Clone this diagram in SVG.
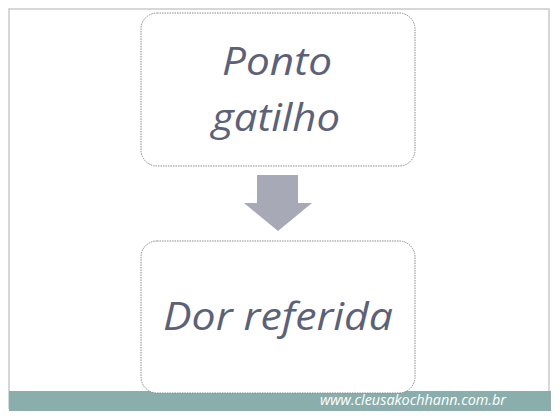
<svg xmlns="http://www.w3.org/2000/svg" width="560" height="420" viewBox="0 0 560 420">
<style>
.box{fill:#ffffff;stroke:#8a8a8a;stroke-width:1;stroke-dasharray:1.5 1}
.lbl{font-family:"Open Sans","DejaVu Sans",sans-serif;font-style:italic;font-size:38px;fill:#5c6178;text-anchor:middle}
.frame{fill:none;stroke:#c8cccc;stroke-width:1.5}
</style>
<rect x="0" y="0" width="560" height="420" fill="#ffffff"/>
<path class="frame" d="M9,409 V9 H549 V409"/>
<rect x="9" y="391" width="542" height="20" fill="#8aaeac"/>
<g id="node-ponto-gatilho">
<rect class="box" x="141" y="13" width="274" height="153" rx="16"/>
<text class="lbl" x="277" y="75" textLength="110" lengthAdjust="spacingAndGlyphs">Ponto</text>
<text class="lbl" x="276" y="131" textLength="128" lengthAdjust="spacingAndGlyphs">gatilho</text>
</g>
<g id="connectors">
<path d="M257,175 H298 V203 H312 L278,231 L244,203 H257 Z" fill="#a7aab6"/>
</g>
<g id="node-dor-referida">
<rect class="box" x="141" y="241" width="274" height="152" rx="16"/>
<text class="lbl" x="278" y="330" textLength="230" lengthAdjust="spacingAndGlyphs">Dor referida</text>
</g>
<text x="506" y="405" font-family="Open Sans, DejaVu Sans, sans-serif" font-style="italic" font-size="15" fill="#ffffff" text-anchor="end" textLength="186" lengthAdjust="spacingAndGlyphs">www.cleusakochhann.com.br</text>
</svg>
